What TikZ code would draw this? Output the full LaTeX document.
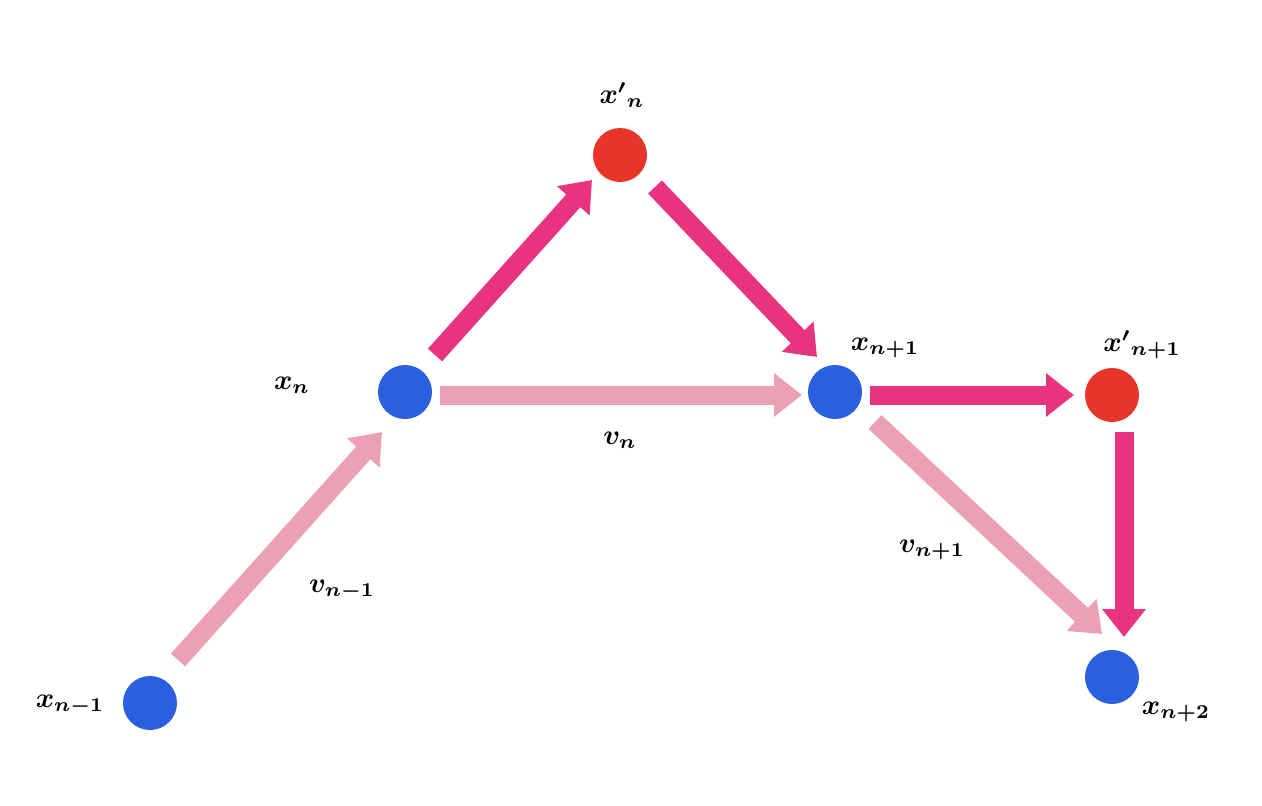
\documentclass[tikz,border=0pt]{standalone}
\usepackage{bm}
\usetikzlibrary{arrows.meta}
\definecolor{dotblue}{HTML}{2A5FE0}
\definecolor{dotred}{HTML}{E8352A}
\definecolor{strongpink}{HTML}{E8347E}
\definecolor{lightpink}{HTML}{EBA0B4}
\newcommand{\bigmath}[1]{\scalebox{2.8}{\boldmath$#1$}}
\tikzset{
  bdot/.style={circle,fill=dotblue,minimum size=54pt,inner sep=0pt},
  rdot/.style={circle,fill=dotred,minimum size=54pt,inner sep=0pt},
  arr/.style={line width=19pt,-{Triangle[width=42pt,length=28pt]}},
  sarr/.style={arr,draw=strongpink},
  larr/.style={arr,draw=lightpink},
  lbl/.style={inner sep=0pt}
}
\begin{document}
\begin{tikzpicture}[x=1pt,y=-1pt]
\useasboundingbox (0,0) rectangle (1262,806);
\node[bdot] (a) at (150,703) {};
\node[bdot] (b) at (405,392) {};
\node[rdot] (c) at (620,155) {};
\node[bdot] (d) at (835,392) {};
\node[rdot] (e) at (1112,395) {};
\node[bdot] (f) at (1112,677) {};
\coordinate (a1) at (178,660); \coordinate (b0) at (382,432);
\coordinate (b1) at (435,355); \coordinate (c0) at (592,180);
\coordinate (c1) at (655,187); \coordinate (d0) at (817,357);
\coordinate (b2) at (440,395); \coordinate (d2) at (802,395);
\coordinate (d3) at (870,395); \coordinate (e0) at (1074,395);
\coordinate (d4) at (875,422); \coordinate (f0) at (1102,634);
\coordinate (e1) at (1124,432); \coordinate (f1) at (1124,637);
\draw[larr] (a1) -- (b0);
\draw[sarr] (b1) -- (c0);
\draw[sarr] (c1) -- (d0);
\draw[larr] (b2) -- (d2);
\draw[sarr] (d3) -- (e0);
\draw[larr] (d4) -- (f0);
\draw[sarr] (e1) -- (f1);
\node[lbl] (la) at (70,705) {\bigmath{x_{n-1}}};
\node[lbl] (lb) at (292,385) {\bigmath{x_n}};
\node[lbl] (lc) at (622,95) {\bigmath{{x'}_{n}}};
\node[lbl] (ld) at (885,348) {\bigmath{x_{n+1}}};
\node[lbl] (le) at (1142,345) {\bigmath{{x'}_{n+1}}};
\node[lbl] (lf) at (1176,712) {\bigmath{x_{n+2}}};
\node[lbl] (vn) at (620,440) {\bigmath{v_n}};
\node[lbl] (vm) at (342,590) {\bigmath{v_{n-1}}};
\node[lbl] (vp) at (932,550) {\bigmath{v_{n+1}}};
\end{tikzpicture}
\end{document}
